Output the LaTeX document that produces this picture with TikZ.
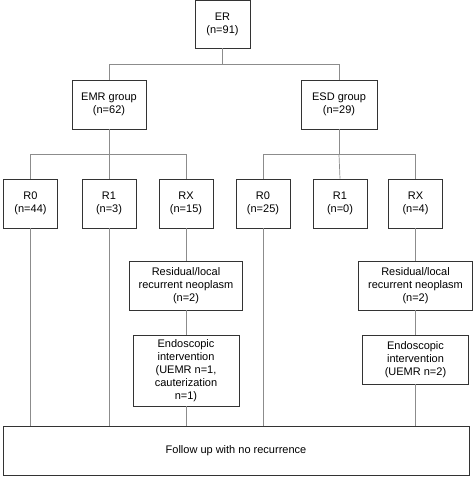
\documentclass[tikz,border=0pt]{standalone}
\usepackage{fontspec}
\setmainfont{Liberation Sans}
\begin{document}
\begin{tikzpicture}[x=1pt,y=-1pt,
    box/.style={draw=black!80,line width=0.8pt,align=center,inner sep=1pt,
      font=\fontsize{11}{13}\selectfont,minimum height=49pt},
    link/.style={draw=black!45,line width=0.7pt}]
        \useasboundingbox (0,0) rectangle (474,477);

        \node[box,minimum width=55pt,minimum height=48pt] (er) at (222.5,24) {ER\\(n=91)};
        \node[box,minimum width=74pt] (emr) at (109,104.5) {EMR group\\(n=62)};
        \node[box,minimum width=76pt] (esd) at (339,104.5) {ESD group\\(n=29)};

        \node[box,minimum width=54pt] (r0a) at (30.5,203.5) {R0\\(n=44)};
        \node[box,minimum width=54pt] (r1a) at (109,203.5) {R1\\(n=3)};
        \node[box,minimum width=54pt] (rxa) at (186,203.5) {RX\\(n=15)};
        \node[box,minimum width=54pt] (r0b) at (263,203.5) {R0\\(n=25)};
        \node[box,minimum width=54pt] (r1b) at (340,203.5) {R1\\(n=0)};
        \node[box,minimum width=54pt] (rxb) at (415.5,203.5) {RX\\(n=4)};

        \node[box,minimum width=113pt] (resa) at (186,285.5) {Residual/local\\recurrent neoplasm\\(n=2)};
        \node[box,minimum width=106pt,minimum height=71pt] (endoa) at (186,370.5) {Endoscopic\\intervention\\(UEMR n=1,\\cauterization\\n=1)};
        \node[box,minimum width=114pt] (resb) at (415.5,285.5) {Residual/local\\recurrent neoplasm\\(n=2)};
        \node[box,minimum width=106pt] (endob) at (415.5,359.5) {Endoscopic\\intervention\\(UEMR n=2)};

        \node[box,minimum width=466pt] (fu) at (236,450.5) {Follow up with no recurrence};

        \draw[link] (er.south) -- ++(0,16) coordinate (jer);
        \draw[link] (emr.north) |- (jer) -| (esd.north);

        \draw[link] (emr.south) -- ++(0,25) coordinate (jemr);
        \draw[link] (r0a.north) |- (jemr) -| (rxa.north);
        \draw[link] (jemr) -- (r1a.north);

        \draw[link] (esd.south) -- ++(0,25) coordinate (jesd);
        \draw[link] (r0b.north) |- (jesd) -| (rxb.north);
        \draw[link] (jesd) -- (r1b.north);

        \draw[link] (r0a.south) -- (r0a.south |- fu.north);
        \draw[link] (r1a.south) -- (r1a.south |- fu.north);
        \draw[link] (rxa.south) -- (resa.north);
        \draw[link] (resa.south) -- (endoa.north);
        \draw[link] (endoa.south) -- (endoa.south |- fu.north);
        \draw[link] (r0b.south) -- (r0b.south |- fu.north);
        \draw[link] (rxb.south) -- (resb.north);
        \draw[link] (resb.south) -- (endob.north);
        \draw[link] (endob.south) -- (endob.south |- fu.north);
      \end{tikzpicture}
\end{document}
